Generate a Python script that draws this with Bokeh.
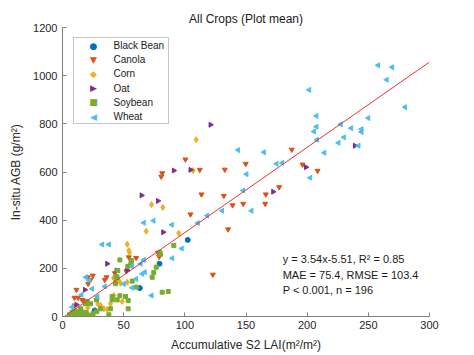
import math
from bokeh.plotting import figure
from bokeh.models import Range1d, Label, FixedTicker, BoxAnnotation
from bokeh.embed import file_html
from bokeh.resources import INLINE

# ---------------- data ----------------
bean_x = [102.4, 79.3, 63.2, 26.4]
bean_y = [318, 219, 118, 25]

canola_x = [100.5, 81.5, 80.7, 112.2, 132.7, 113.6, 131.9, 139.0, 104.6, 135.4, 122.9,
            149.8, 187.4, 196.2, 208.5, 177.1, 166.2, 165.7, 147.7, 54.2, 60.2, 78.0,
            79.0, 52.3, 42.5, 42.8, 34.6, 36.0, 24.8, 20.7, 22.9, 21.0, 11.4, 16.1,
            17.5, 9.8, 12.8, 9.8]
canola_y = [652, 595, 581, 609, 610, 507, 501, 462, 424, 362, 174,
            634, 693, 631, 605, 537, 507, 468, 468, 246, 243, 265,
            248, 188, 154, 180, 152, 163, 170, 163, 152, 136, 111, 69,
            66, 78, 78, 46]

corn_x = [109.3, 106.8, 72.8, 82.0, 68.4, 95.0, 52.9, 54.2, 54.8, 55.0, 52.9, 45.8,
          41.9, 47.4, 39.2, 33.8, 28.4, 31.1, 28.9, 20.7, 17.9, 48.8, 36.5, 42.0]
corn_y = [734, 606, 465, 453, 354, 346, 300, 274, 265, 215, 142, 150,
          161, 138, 53, 32, 73, 46, 52, 36, 3, 62, 29, 87]

oat_x = [121.0, 91.0, 104.6, 64.6, 78.0, 82.3, 172.2, 199.0, 239.0, 36.5, 52.9,
         44.1, 18.3, 11.4]
oat_y = [796, 606, 609, 503, 480, 350, 518, 620, 709, 219, 191,
         191, 111, 49]

soy_x = [91.0, 79.6, 80.0, 76.6, 74.6, 73.3, 81.5, 86.4, 56.4, 56.0, 46.9, 45.2,
         53.4, 43.9, 44.7, 57.0, 60.5, 43.3, 53.7, 53.7, 46.9, 51.5, 40.6, 39.2,
         31.0, 37.9, 27.8, 20.2, 22.9, 18.8, 21.5, 24.3, 7.9, 9.8, 12.0, 14.2,
         16.1, 10.6, 13.4, 17.4, 9.3, 14.7, 5.7, 19.1, 11.0, 15.0, 8.0, 20.0,
         25.0, 28.0, 40.6, 44.7]
soy_y = [295, 267, 258, 205, 183, 163, 101, 104, 232, 222, 235, 191,
         208, 166, 161, 147, 122, 136, 66, 32, 86, 83, 83, 32,
         32, 7, 69, 62, 53, 53, 4, 4, 18, 25, 18, 22,
         14, 7, 7, 7, 12, 32, 7, 18, 3, 28, 10, 10,
         12, 20, 69, 69]

wheat_x = [258.0, 269.5, 265.0, 201.7, 280.0, 207.6, 250.0, 207.6, 227.5, 205.5,
           236.0, 244.4, 244.4, 230.0, 208.0, 225.6, 214.0, 179.6, 175.0, 242.0,
           143.6, 164.6, 150.4, 202.5, 147.7, 130.5, 154.5, 118.3, 110.6, 66.5,
           74.4, 89.4, 32.4, 37.9, 97.5, 89.7, 67.3, 63.8, 66.5, 56.7, 60.2,
           65.1, 50.1, 57.0, 34.6, 72.8, 28.6, 15.5, 19.1, 24.3, 21.8, 7.9]
wheat_y = [1043, 1035, 983, 941, 869, 833, 824, 788, 798, 768,
           782, 778, 766, 744, 734, 721, 680, 638, 634, 709,
           691, 682, 591, 576, 523, 439, 439, 419, 388, 389,
           398, 381, 299, 299, 282, 242, 184, 219, 235, 208, 156,
           177, 135, 119, 125, 87, 83, 90, 163, 115, 150, 39]

fit_x = [0, 300]
slope, intercept = 3.54, -5.51
fit_y = [slope * v + intercept for v in fit_x]

x_ticks = [0, 50, 100, 150, 200, 250, 300]
y_ticks = [0, 200, 400, 600, 800, 1000, 1200]

crops = ["Black Bean", "Canola", "Corn", "Oat", "Soybean", "Wheat"]
crop_colors = ["#0072BD", "#D95319", "#EDB120", "#7E2F8E", "#77AC30", "#4DBEEE"]
crop_symbols = ["\u25CF", "\u25BC", "\u25C6", "\u25B6", "\u25A0", "\u25C0"]

stats_lines = ["y = 3.54x-5.51, R\u00b2 = 0.85",
               "MAE = 75.4, RMSE = 103.4",
               "P < 0.001, n = 196"]
stats_y = [237, 174, 108]

FONT = "Liberation Sans"

p = figure(width=474, height=355, x_range=Range1d(0, 300), y_range=Range1d(0, 1200),
           output_backend="svg", toolbar_location=None,
           min_border_left=62, min_border_right=45, min_border_top=27, min_border_bottom=39)
p.outline_line_color = None
p.xgrid.visible = False
p.ygrid.visible = False
p.background_fill_color = "white"

p.title.text = "All Crops (Plot mean)"
p.title.align = "center"
p.title.text_font = FONT
p.title.text_font_size = "12px"
p.title.text_font_style = "normal"
p.title.text_color = "#1a1a1a"
p.title.standoff = 3

for ax, ticks in ((p.xaxis[0], x_ticks), (p.yaxis[0], y_ticks)):
    ax.ticker = FixedTicker(ticks=ticks)
    ax.axis_line_color = "#808080"
    ax.major_tick_line_color = "#808080"
    ax.major_tick_in = 4
    ax.major_tick_out = 0
    ax.minor_tick_line_color = None
    ax.major_label_text_font = FONT
    ax.major_label_text_font_size = "11px"
    ax.major_label_text_color = "#262626"
    ax.axis_label_text_font = FONT
    ax.axis_label_text_font_size = "12px"
    ax.axis_label_text_font_style = "normal"
    ax.axis_label_text_color = "#262626"

p.xaxis.axis_label = "Accumulative S2 LAI(m\u00b2/m\u00b2)"
p.yaxis.axis_label = "In-situ AGB (g/m\u00b2)"
p.xaxis.major_label_standoff = 4
p.yaxis.major_label_standoff = 5
p.xaxis.axis_label_standoff = 6
p.yaxis.axis_label_standoff = 7

C_BEAN, C_CAN, C_CORN, C_OAT, C_SOY, C_WHEAT = crop_colors

p.scatter(bean_x, bean_y, marker="circle", size=5, color=C_BEAN)
p.scatter(canola_x, canola_y, marker="inverted_triangle", size=5, color=C_CAN)
p.scatter(corn_x, corn_y, marker="diamond", size=6, color=C_CORN)
p.scatter(oat_x, oat_y, marker="triangle", angle=-math.pi / 2, size=5, color=C_OAT)
p.scatter(soy_x, soy_y, marker="square", size=4, color=C_SOY)
p.scatter(wheat_x, wheat_y, marker="triangle", angle=math.pi / 2, size=5, color=C_WHEAT)

p.line(fit_x, fit_y, line_color="#F03030", line_width=1)

for txt, yy in zip(stats_lines, stats_y):
    p.add_layout(Label(x=180, y=yy, text=txt, text_font=FONT, text_font_size="11px",
                       text_color="#1a1a1a", text_baseline="middle", text_align="left"))

# ---- legend drawn as annotations (screen units, relative to the plot frame) ----
leg_left, leg_right, leg_bottom, leg_top = 11, 106, 193, 279
p.add_layout(BoxAnnotation(left=leg_left, right=leg_right, bottom=leg_bottom, top=leg_top,
                           left_units="screen", right_units="screen",
                           bottom_units="screen", top_units="screen",
                           fill_color="white", fill_alpha=1,
                           line_color="#404040", line_width=1, level="overlay"))
row_h = 14.2
for i, (name, col, sym) in enumerate(zip(crops, crop_colors, crop_symbols)):
    yy = leg_top - 8 - i * row_h
    p.add_layout(Label(x=31, y=yy, x_units="screen", y_units="screen", text=sym,
                       text_font="DejaVu Sans", text_font_size="9px", text_color=col,
                       text_align="center", text_baseline="middle", level="overlay"))
    p.add_layout(Label(x=51, y=yy, x_units="screen", y_units="screen", text=name,
                       text_font=FONT, text_font_size="10px", text_color="#1a1a1a",
                       text_align="left", text_baseline="middle", level="overlay"))

open("out.html", "w").write(file_html(p, INLINE))
